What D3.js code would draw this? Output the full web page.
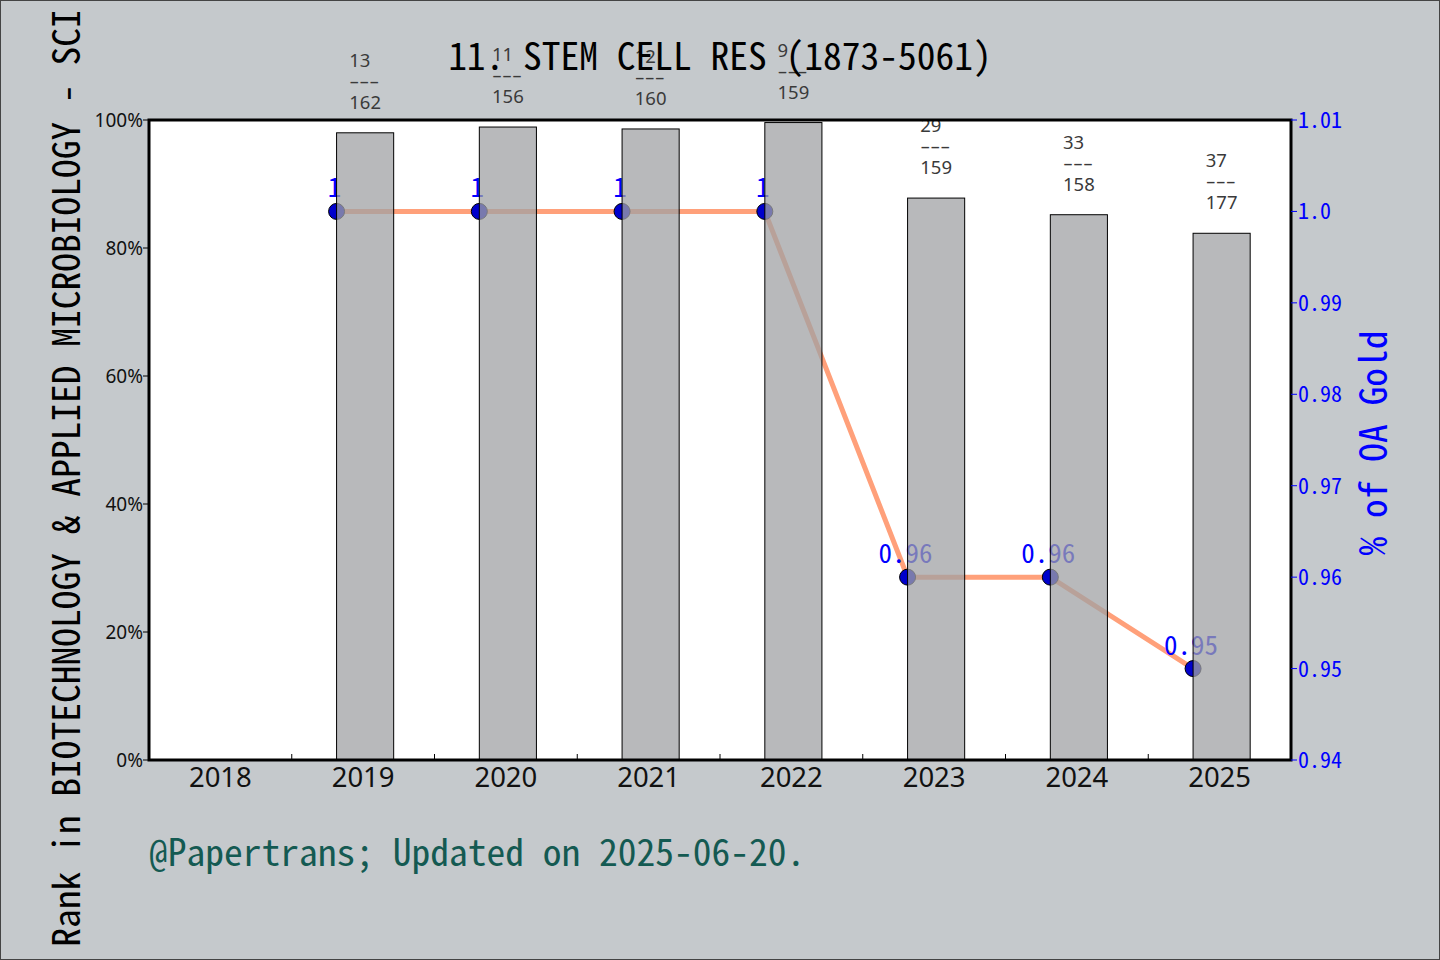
<!DOCTYPE html>
<html>
<head>
<meta charset="utf-8">
<script src="https://cdn.jsdelivr.net/npm/d3@7"></script>
<style>
html,body{margin:0;padding:0;background:#c5c9cc;}
svg{display:block;}
</style>
</head>
<body>
<svg id="chart" width="1440" height="960"></svg>
<script>
// ---- data ----
const years = [2018, 2019, 2020, 2021, 2022, 2023, 2024, 2025];
const rankPct = [null, 98.0, 98.9, 98.6, 99.6, 87.8, 85.2, 82.3];
const rankNum = [null, 13, 11, 12, 9, 29, 33, 37];
const rankDen = [null, 162, 156, 160, 159, 159, 158, 177];
const oaGold = [null, 1.0, 1.0, 1.0, 1.0, 0.96, 0.96, 0.95];
const oaLabels = ["", "1", "1", "1", "1", "0.96", "0.96", "0.95"];
const leftTicks = [0, 20, 40, 60, 80, 100];
const leftTickLabels = ["0%", "20%", "40%", "60%", "80%", "100%"];
const rightTicks = [0.94, 0.95, 0.96, 0.97, 0.98, 0.99, 1.0, 1.01];
const rightTickLabels = ["0.94", "0.95", "0.96", "0.97", "0.98", "0.99", "1.0", "1.01"];
const titleText = "11. STEM CELL RES (1873-5061)";
const leftLabel = "Rank in BIOTECHNOLOGY & APPLIED MICROBIOLOGY - SCI";
const rightLabel = "% of OA Gold";
const footer = "@Papertrans; Updated on 2025-06-20.";

const MONO = '"Noto Sans Mono CJK SC", "DejaVu Sans Mono", monospace';
const SANS = '"Noto Sans", "DejaVu Sans", sans-serif';

const W = 1440, H = 960;
const L = 149, R = 1291, T = 120, B = 760;

const svg = d3.select("#chart");
svg.append("rect").attr("x", 0.5).attr("y", 0.5).attr("width", W - 1).attr("height", H - 1)
  .attr("fill", "#c5c9cc").attr("stroke", "#444").attr("stroke-width", 1);

const x = d3.scaleLinear().domain([2017.5, 2025.5]).range([L, R]);
const yL = d3.scaleLinear().domain([0, 100]).range([B, T]);
const yR = d3.scaleLinear().domain([0.94, 1.01]).range([B, T]);

const ptOff = -0.186, barW = 0.4;

// plot bg
svg.append("rect").attr("x", L).attr("y", T).attr("width", R - L).attr("height", B - T).attr("fill", "#fff");

const rows = years.map((y, i) => ({year: y, pct: rankPct[i], num: rankNum[i], den: rankDen[i], oa: oaGold[i], oaLab: oaLabels[i]}));
const lineRows = rows.filter(d => d.oa != null);

// line
svg.append("path").datum(lineRows)
  .attr("d", d3.line().x(d => x(d.year + ptOff)).y(d => yR(d.oa)))
  .attr("fill", "none").attr("stroke", "#ffa07a").attr("stroke-width", 5);

// markers
svg.selectAll("circle.pt").data(lineRows).join("circle")
  .attr("cx", d => x(d.year + ptOff)).attr("cy", d => yR(d.oa)).attr("r", 8)
  .attr("fill", "#0000cc").attr("stroke", "#000").attr("stroke-width", 1);

// point labels
svg.selectAll("text.pl").data(lineRows).join("text")
  .attr("x", d => x(d.year + ptOff) - 2).attr("y", d => yR(d.oa) - 14)
  .attr("text-anchor", "middle").attr("font-family", MONO).attr("font-size", 27)
  .attr("fill", "#0000ff").text(d => d.oaLab);

// bars (semi-transparent, on top)
const barRows = rows.filter(d => d.pct != null);
svg.selectAll("rect.bar").data(barRows).join("rect")
  .attr("x", d => x(d.year + ptOff)).attr("width", d => x(d.year + ptOff + barW) - x(d.year + ptOff))
  .attr("y", d => yL(d.pct)).attr("height", d => yL(0) - yL(d.pct))
  .attr("fill", "rgb(160,161,164)").attr("fill-opacity", 0.75)
  .attr("stroke", "#000").attr("stroke-width", 1);

// rank labels
barRows.forEach(d => {
  const cx = x(d.year + ptOff + barW / 2);
  const top = yL(d.pct);
  const g = svg.append("g");
  const lines = [String(d.num), "---", String(d.den)];
  const texts = lines.map((s, k) => g.append("text")
    .attr("y", top - 24 - (2 - k) * 21)
    .attr("font-family", SANS).attr("font-size", 18.5).attr("fill", "#3a3a3a").text(s));
  const wDen = texts[2].node().getComputedTextLength();
  const wNum = texts[0].node().getComputedTextLength();
  const maxW = Math.max(wDen, wNum, 30);
  texts[1].attr("textLength", 30).attr("lengthAdjust", "spacingAndGlyphs");
  const left = cx - maxW / 2;
  texts.forEach(t => t.attr("x", left));
});

// frame
svg.append("rect").attr("x", L).attr("y", T).attr("width", R - L).attr("height", B - T)
  .attr("fill", "none").attr("stroke", "#000").attr("stroke-width", 3);

// left axis ticks
const lt = svg.append("g");
leftTicks.forEach((v, i) => {
  lt.append("line").attr("x1", L - 6).attr("x2", L).attr("y1", yL(v)).attr("y2", yL(v)).attr("stroke", "#000").attr("stroke-width", 1);
  lt.append("text").attr("x", L - 6).attr("y", yL(v) + 7).attr("text-anchor", "end")
    .attr("font-family", SANS).attr("font-size", 19).attr("fill", "#111").text(leftTickLabels[i]);
});

// right axis ticks
const rt = svg.append("g");
rightTicks.forEach((v, i) => {
  rt.append("line").attr("x1", R).attr("x2", R + 6).attr("y1", yR(v)).attr("y2", yR(v)).attr("stroke", "#0000ff").attr("stroke-width", 1);
  rt.append("text").attr("x", R + 7).attr("y", yR(v) + 8)
    .attr("font-family", MONO).attr("font-size", 22).attr("fill", "#0000ff").text(rightTickLabels[i]);
});

// x axis labels and minor ticks
const xt = svg.append("g");
years.forEach(y => {
  xt.append("text").attr("x", x(y)).attr("y", 787).attr("text-anchor", "middle")
    .attr("font-family", SANS).attr("font-size", 27.5).attr("fill", "#111").text(String(y));
});
years.slice(0, -1).forEach(y => {
  xt.append("line").attr("x1", x(y + 0.5)).attr("x2", x(y + 0.5)).attr("y1", B).attr("y2", B - 6)
    .attr("stroke", "#000").attr("stroke-width", 1);
});

// title
svg.append("text").attr("x", 720).attr("y", 70).attr("text-anchor", "middle")
  .attr("font-family", MONO).attr("font-size", 37.5).attr("fill", "#000").text(titleText);

// left label
svg.append("text").attr("transform", "translate(80,478) rotate(-90)").attr("text-anchor", "middle")
  .attr("font-family", MONO).attr("font-size", 37.5).attr("fill", "#000").text(leftLabel);

// right label
svg.append("text").attr("transform", "translate(1387,443) rotate(-90)").attr("text-anchor", "middle")
  .attr("font-family", MONO).attr("font-size", 37.5).attr("fill", "#0000ff").text(rightLabel);

// footer
svg.append("text").attr("x", 149).attr("y", 866)
  .attr("font-family", MONO).attr("font-size", 37.5).attr("fill", "#145a52").text(footer);
</script>
</body>
</html>
